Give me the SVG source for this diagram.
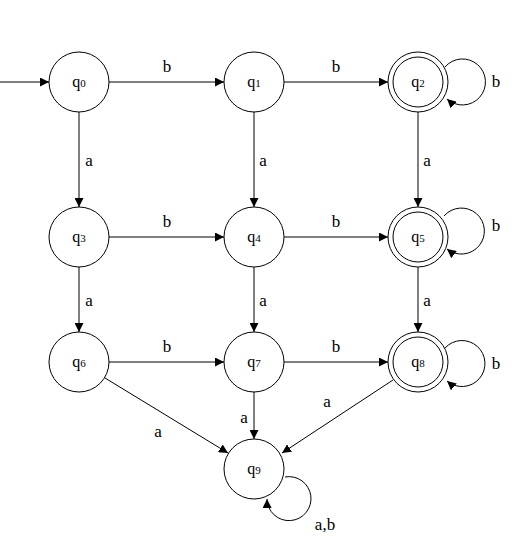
<svg xmlns="http://www.w3.org/2000/svg" width="529" height="541" viewBox="0 0 529 541">
<style>
  .n { fill: #fff; stroke: #000; stroke-width: 1; }
  .e { fill: none; stroke: #000; stroke-width: 1; marker-end: url(#arr); }
  .t { font-family: 'Liberation Serif', 'DejaVu Serif', serif; font-size: 16px; fill: #000; text-anchor: middle; }
  .l { font-size: 17px; }
  .d { font-size: 11px; }
</style>
<defs>
  <marker id="arr" markerUnits="userSpaceOnUse" viewBox="0 0 9 9" markerWidth="9" markerHeight="9" refX="9" refY="4.5" orient="auto">
    <path d="M0 0 L9 4.5 L0 9 z" fill="#000"/>
  </marker>
</defs>
<rect width="529" height="541" fill="#fff"/>
<g id="connectors">
  <path class="e" d="M0 82 H49"/>
  <path class="e" d="M109 82 H224"/>
  <path class="e" d="M284 82 H388"/>
  <path class="e" d="M79 112 V207"/>
  <path class="e" d="M254 112 V207"/>
  <path class="e" d="M418 112 V207"/>
  <path class="e" d="M109 237 H224"/>
  <path class="e" d="M284 237 H388"/>
  <path class="e" d="M79 267 V332"/>
  <path class="e" d="M254 267 V332"/>
  <path class="e" d="M418 267 V332"/>
  <path class="e" d="M109 362 H224"/>
  <path class="e" d="M284 362 H388"/>
  <path class="e" d="M105 378 L228 453"/>
  <path class="e" d="M254 392 V439"/>
  <path class="e" d="M393 380 L282 453"/>
  <path class="e" d="M445 67 A23 23 0 1 1 447 99"/>
  <path class="e" d="M444 216 A23 23 0 1 1 447 249"/>
  <path class="e" d="M445 348 A23 23 0 1 1 447 381"/>
  <path class="e" d="M285 477 A22 22 0 1 1 267 499"/>
  <g class="t l">
  <text x="167" y="72">b</text>
  <text x="336" y="72">b</text>
  <text x="167" y="227">b</text>
  <text x="336" y="227">b</text>
  <text x="167" y="352">b</text>
  <text x="336" y="352">b</text>
  <text x="89" y="166">a</text>
  <text x="263" y="166">a</text>
  <text x="427" y="166">a</text>
  <text x="89" y="306">a</text>
  <text x="263" y="306">a</text>
  <text x="427" y="306">a</text>
  <text x="158" y="437">a</text>
  <text x="244" y="423">a</text>
  <text x="327" y="407">a</text>
  <text x="496" y="87">b</text>
  <text x="496" y="231">b</text>
  <text x="496" y="369">b</text>
  <text x="325" y="530">a,b</text>
  </g>
</g>
<g id="q0"><circle class="n" cx="79" cy="82" r="30"/><text class="t" x="79" y="87">q<tspan class="d">0</tspan></text></g>
<g id="q1"><circle class="n" cx="254" cy="82" r="30"/><text class="t" x="254" y="87">q<tspan class="d">1</tspan></text></g>
<g id="q2"><circle class="n" cx="418" cy="82" r="30"/><circle class="n" cx="418" cy="82" r="25"/><text class="t" x="418" y="87">q<tspan class="d">2</tspan></text></g>
<g id="q3"><circle class="n" cx="79" cy="237" r="30"/><text class="t" x="79" y="242">q<tspan class="d">3</tspan></text></g>
<g id="q4"><circle class="n" cx="254" cy="237" r="30"/><text class="t" x="254" y="242">q<tspan class="d">4</tspan></text></g>
<g id="q5"><circle class="n" cx="418" cy="237" r="30"/><circle class="n" cx="418" cy="237" r="25"/><text class="t" x="418" y="242">q<tspan class="d">5</tspan></text></g>
<g id="q6"><circle class="n" cx="79" cy="362" r="30"/><text class="t" x="79" y="367">q<tspan class="d">6</tspan></text></g>
<g id="q7"><circle class="n" cx="254" cy="362" r="30"/><text class="t" x="254" y="367">q<tspan class="d">7</tspan></text></g>
<g id="q8"><circle class="n" cx="418" cy="362" r="30"/><circle class="n" cx="418" cy="362" r="25"/><text class="t" x="418" y="367">q<tspan class="d">8</tspan></text></g>
<g id="q9"><circle class="n" cx="254" cy="469" r="30"/><text class="t" x="254" y="474">q<tspan class="d">9</tspan></text></g>
</svg>
